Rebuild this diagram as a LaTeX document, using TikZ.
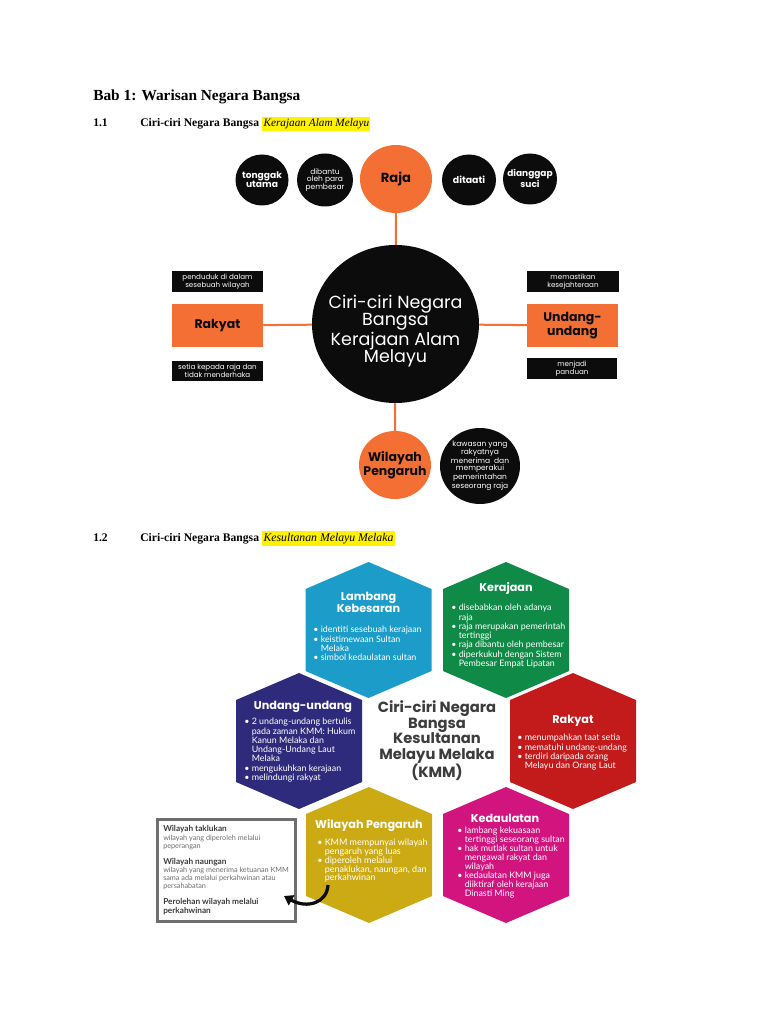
\documentclass[tikz,border=0pt]{standalone}
\usepackage{fontspec}
\setmainfont{Liberation Serif}
\newfontfamily\mfont{Poppins}
\newfontfamily\lfont{Lato}
\usetikzlibrary{arrows.meta, shapes.geometric}

\definecolor{kOrange}{HTML}{F36F33}
\definecolor{kBlack}{HTML}{0C0C0C}
\definecolor{hexBlue}{HTML}{1C9CC8}
\definecolor{hexGreen}{HTML}{108A47}
\definecolor{hexNavy}{HTML}{2F2B7C}
\definecolor{hexRed}{HTML}{C31A1C}
\definecolor{hexGold}{HTML}{CCAA14}
\definecolor{hexPink}{HTML}{D2147F}
\definecolor{txtGray}{HTML}{3C3C3C}
\definecolor{boxGray}{HTML}{6E6E6E}

\newcommand{\bul}{\makebox[6pt][l]{\textbullet}}
\newcommand{\ind}{\hspace*{6pt}}
% hexagon: name, centre, colour
\newcommand{\hexcell}[3]{%
  \fill[#3] (#2) ++(0,-68) -- ++(63,27) -- ++(0,82) -- ++(-63,27) -- ++(-63,-27) -- ++(0,-82) -- cycle;
  \coordinate (#1) at (#2);}

\begin{document}
\begin{tikzpicture}[x=0.8pt, y=-0.8pt,
    disc/.style={ellipse, fill=kBlack, inner sep=0pt},
    orb/.style={ellipse, fill=kOrange, inner sep=0pt},
    tag/.style={rectangle, fill=kBlack, inner sep=0pt, text=white, align=center, font=\mfont\fontsize{5.7}{6}\selectfont},
    pill/.style={rectangle, fill=kOrange, inner sep=0pt, align=center, text=kBlack, font=\mfont\bfseries\fontsize{10}{9.6}\selectfont},
    wtxt/.style={text=white, align=center, inner sep=0pt},
    btxt/.style={text=kBlack, align=center, inner sep=0pt, font=\mfont\bfseries\fontsize{10}{10}\selectfont},
    link/.style={draw=kOrange, line width=1.6pt},
    sec/.style={anchor=base west, inner sep=0pt, font=\bfseries\fontsize{9.3}{9.3}\selectfont},
    hilite/.style={anchor=base west, fill=yellow, inner xsep=1pt, inner ysep=1.5pt, font=\itshape\fontsize{9}{9}\selectfont},
    hextitle/.style={text=white, align=center, inner sep=0pt, font=\mfont\bfseries\fontsize{9}{9.5}\selectfont},
    hexbody/.style={text=white, align=left, anchor=north west, inner sep=0pt, font=\lfont\fontsize{7.1}{7.4}\selectfont},
    boxhead/.style={text=txtGray, align=left, anchor=north west, inner sep=0pt, font=\lfont\bfseries\fontsize{6.6}{7.2}\selectfont},
    boxsub/.style={text=boxGray, align=left, anchor=north west, inner sep=0pt, font=\lfont\fontsize{5.8}{6.4}\selectfont}
]
    \fill[white] (0,0) rectangle (768,1024);
    \useasboundingbox (0,0) rectangle (768,1024);

    % headings
    \node[anchor=base west, inner sep=0pt, font=\bfseries\fontsize{12.3}{12.3}\selectfont] (bab) at (93,100.5) {Bab 1: Warisan Negara Bangsa};
    \node[sec] (s11) at (93,126.5) {1.1};
    \node[sec] (s11t) at (140,126.5) {Ciri-ciri Negara Bangsa};
    \node[hilite, xshift=2.2pt] (s11h) at (s11t.base east) {Kerajaan Alam Melayu};

    % diagram 1
    \node[orb, minimum width=57.6pt, minimum height=54.4pt] (raja) at (396,179) {};
    \node[disc, minimum width=42.4pt, minimum height=40.8pt] (tonggak) at (262,180) {};
    \node[disc, minimum width=44.8pt, minimum height=42.4pt] (dibantu) at (325,180) {};
    \node[disc, minimum width=43.2pt, minimum height=40.8pt] (ditaati) at (469,180) {};
    \node[disc, minimum width=43.2pt, minimum height=40.8pt] (suci) at (530,179) {};
    \node[disc, minimum width=133.6pt, minimum height=126.4pt] (ciri) at (395.5,324) {};
    \node[orb, minimum width=57.6pt, minimum height=54.4pt] (wilayah) at (395,465) {};
    \node[disc, minimum width=64pt, minimum height=60.8pt] (kawasan) at (480,466) {};

    \node[pill, minimum width=72.8pt, minimum height=34.4pt] (rakyat) at (217.5,325.5) {Rakyat};
    \node[pill, minimum width=72.8pt, minimum height=34.4pt] (undang) at (572.5,325.5) {Undang-\\undang};
    \node[tag, minimum width=72.8pt, minimum height=16.8pt] (penduduk) at (217.5,281.5) {penduduk di dalam\\sesebuah wilayah};
    \node[tag, minimum width=72.8pt, minimum height=16pt] (setia) at (217.5,371) {setia kepada raja dan\\tidak menderhaka};
    \node[tag, minimum width=73.6pt, minimum height=16.8pt] (sejahtera) at (573,281.5) {memastikan\\kesejahteraan};
    \node[tag, minimum width=72pt, minimum height=16.8pt] (panduan) at (572,368.5) {menjadi\\panduan};

    \draw[link] (raja) -- (ciri);
    \draw[link] (rakyat) -- (ciri);
    \draw[link] (ciri) -- (undang);
    \draw[link] (ciri) -- (wilayah);

    \node[btxt, font=\mfont\bfseries\fontsize{10.5}{10.5}\selectfont] (rajaT) at (raja) {Raja};
    \node[wtxt, font=\mfont\bfseries\fontsize{7.3}{7.3}\selectfont] (tonggakT) at (tonggak) {tonggak\\utama};
    \node[wtxt, font=\mfont\fontsize{6}{6}\selectfont] (dibantuT) at (dibantu) {dibantu\\oleh para\\pembesar};
    \node[wtxt, font=\mfont\bfseries\fontsize{7.5}{7.5}\selectfont] (ditaatiT) at (ditaati) {ditaati};
    \node[wtxt, font=\mfont\bfseries\fontsize{7.2}{7.2}\selectfont] (suciT) at (530,178) {dianggap\\suci};
    \node[wtxt, font=\mfont\fontsize{14}{14.2}\selectfont] (ciriT) at (395.5,331) {Ciri-ciri Negara\\Bangsa\\Kerajaan Alam\\Melayu};
    \node[btxt] (wilayahT) at (wilayah) {Wilayah\\Pengaruh};
    \node[wtxt, font=\mfont\fontsize{6}{6.1}\selectfont] (kawasanT) at (kawasan) {kawasan yang\\rakyatnya\\menerima\ \ dan\\memperakui\\pemerintahan\\seseorang raja};

    % heading 1.2
    \node[sec] (s12) at (93,541.5) {1.2};
    \node[sec] (s12t) at (140,541.5) {Ciri-ciri Negara Bangsa};
    \node[hilite, xshift=2.2pt, font=\itshape\fontsize{9.4}{9.4}\selectfont] (s12h) at (s12t.base east) {Kesultanan Melayu Melaka};

    % diagram 2
    \hexcell{lambang}{368.5,630}{hexBlue}
    \hexcell{kerajaan}{506,630}{hexGreen}
    \hexcell{undangK}{299,741}{hexNavy}
    \hexcell{rakyatK}{573,741}{hexRed}
    \hexcell{wilayahK}{369,855}{hexGold}
    \hexcell{daulat}{506,855}{hexPink}

    \node[hextitle] (lambangT) at (368.5,602.5) {Lambang\\Kebesaran};
    \node[hexbody] (lambangB) at (313,626) {\bul identiti sesebuah kerajaan\\\bul keistimewaan Sultan\\\ind Melaka\\\bul simbol kedaulatan sultan};

    \node[hextitle] (kerajaanT) at (506,588) {Kerajaan};
    \node[hexbody] (kerajaanB) at (451,604) {\bul disebabkan oleh adanya\\\ind raja\\\bul raja merupakan pemerintah\\\ind tertinggi\\\bul raja dibantu oleh pembesar\\\bul diperkukuh dengan Sistem\\\ind Pembesar Empat Lipatan};

    \node[hextitle] (undangT) at (303,707) {Undang-undang};
    \node[hexbody] (undangB) at (244,718) {\bul 2 undang-undang bertulis\\\ind pada zaman KMM: Hukum\\\ind Kanun Melaka dan\\\ind Undang-Undang Laut\\\ind Melaka\\\bul mengukuhkan kerajaan\\\bul melindungi rakyat};

    \node[hextitle] (rakyatT) at (573,721) {Rakyat};
    \node[hexbody] (rakyatB) at (517,734) {\bul menumpahkan taat setia\\\bul mematuhi undang-undang\\\bul terdiri daripada orang\\\ind Melayu dan Orang Laut};

    \node[hextitle] (wilayahKT) at (369,826) {Wilayah Pengaruh};
    \node[hexbody, font=\lfont\fontsize{7.2}{7}\selectfont] (wilayahKB) at (317,839) {\bul KMM mempunyai wilayah\\\ind pengaruh yang luas\\\bul diperoleh melalui\\\ind penaklukan, naungan, dan\\\ind perkahwinan};

    \node[hextitle] (daulatT) at (505,818) {Kedaulatan};
    \node[hexbody, font=\lfont\fontsize{7.1}{7.2}\selectfont] (daulatB) at (457,827) {\bul lambang kekuasaan\\\ind tertinggi seseorang sultan\\\bul hak mutlak sultan untuk\\\ind mengawal rakyat dan\\\ind wilayah\\\bul kedaulatan KMM juga\\\ind diiktiraf oleh kerajaan\\\ind Dinasti Ming};

    \node[font=\mfont\bfseries\fontsize{11.8}{12.3}\selectfont, text=txtGray, align=center, inner sep=0pt] (kmm) at (437,741) {Ciri-ciri Negara\\Bangsa\\Kesultanan\\Melayu Melaka\\(KMM)};

    % box of wilayah kinds
    \node[draw=boxGray, line width=2.4pt, fill=white, minimum width=110.4pt, minimum height=81.6pt] (jenis) at (226.5,870.5) {};
    \node[boxhead] (taklukH) at (163,825.5) {Wilayah taklukan};
    \node[boxsub] (taklukS) at (163,835) {wilayah yang diperoleh melalui\\peperangan};
    \node[boxhead] (naunganH) at (163,858.5) {Wilayah naungan};
    \node[boxsub] (naunganS) at (163,867) {wilayah yang menerima ketuanan KMM\\sama ada melalui perkahwinan atau\\persahabatan};
    \node[boxhead] (kahwinH) at (163,898.5) {Perolehan wilayah melalui\\perkahwinan};

    \coordinate (arrowFrom) at (328,885);
    \coordinate (arrowTo) at (284,896);
    \draw[kBlack, line width=2.6pt, -{Triangle[length=7pt, width=9pt]}] (arrowFrom) .. controls (327,903) and (307,909) .. (arrowTo);
\end{tikzpicture}
\end{document}
